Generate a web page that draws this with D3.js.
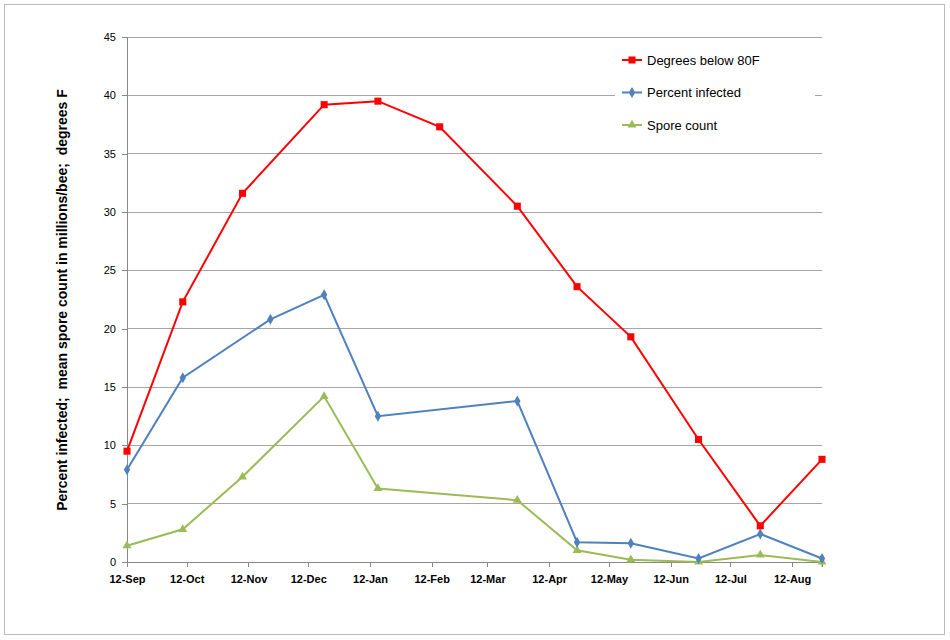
<!DOCTYPE html>
<html><head><meta charset="utf-8">
<script src="https://cdn.jsdelivr.net/npm/d3@7"></script>
<style>body{margin:0;background:#fff}svg{font-family:"Liberation Sans",Arial,sans-serif}</style>
</head><body><svg id="chart" width="950" height="640"></svg>
<script>
// dates of observation (x positions of points)
var degreesDates = ["2012-09-12","2012-10-10","2012-11-09","2012-12-20","2013-01-16","2013-02-16","2013-03-27","2013-04-26","2013-05-23","2013-06-26","2013-07-27","2013-08-27"];
var degreesBelow = [9.5, 22.3, 31.6, 39.2, 39.5, 37.3, 30.5, 23.6, 19.3, 10.5, 3.1, 8.8];
var infectedDates = ["2012-09-12","2012-10-10","2012-11-23","2012-12-20","2013-01-16","2013-03-27","2013-04-26","2013-05-23","2013-06-26","2013-07-27","2013-08-27"];
var percentInfected = [7.9, 15.8, 20.8, 22.9, 12.5, 13.8, 1.7, 1.6, 0.3, 2.4, 0.3];
var sporeDates = ["2012-09-12","2012-10-10","2012-11-09","2012-12-20","2013-01-16","2013-03-27","2013-04-26","2013-05-23","2013-06-26","2013-07-27","2013-08-27"];
var sporeCount = [1.4, 2.8, 7.3, 14.2, 6.3, 5.3, 1.0, 0.2, 0.0, 0.6, 0.0];
var tickDates = ["2012-09-12","2012-10-12","2012-11-12","2012-12-12","2013-01-12","2013-02-12","2013-03-12","2013-04-12","2013-05-12","2013-06-12","2013-07-12","2013-08-12"];
var yTicks = [0,5,10,15,20,25,30,35,40,45];

var parse = d3.utcParse("%Y-%m-%d"),
	svg = d3.select("#chart");

svg.append("rect").attr("x",4.5).attr("y",4.5).attr("width",940).attr("height",630)
	.attr("fill","#fff").attr("stroke","#bbb");

var x = d3.scaleUtc().domain([parse("2012-09-12"), parse("2013-08-27")]).range([127, 822]),
	y = d3.scaleLinear().domain([0, 45]).range([562, 37]);

// gridlines
svg.append("g").selectAll("line").data(yTicks.slice(1)).join("line")
	.attr("x1",127).attr("x2",822).attr("y1",d=>y(d)).attr("y2",d=>y(d))
	.attr("stroke","#a6a6a6").attr("stroke-width",1).attr("shape-rendering","crispEdges");

var yAxis = svg.append("g").attr("transform","translate(127,0)")
	.call(d3.axisLeft(y).tickValues(yTicks).tickSize(5).tickPadding(6));
var xAxis = svg.append("g").attr("transform","translate(0,562)")
	.call(d3.axisBottom(x).tickValues(tickDates.map(parse)).tickFormat(d3.utcFormat("%-d-%b")).tickSize(5).tickPadding(8));
[yAxis, xAxis].forEach(function (a) {
	a.selectAll("path,line").attr("stroke","#888").attr("shape-rendering","crispEdges");
	a.selectAll("text").attr("font-size",11).attr("fill","#000");
});
xAxis.selectAll("text").attr("font-weight","bold");
xAxis.append("line").attr("x1",822).attr("x2",822).attr("y1",0).attr("y2",5).attr("stroke","#888");

svg.append("text").attr("transform","translate(67,300) rotate(-90)")
	.attr("text-anchor","middle").attr("font-size",14).attr("font-weight","bold")
	.style("white-space","pre")
	.text("Percent infected;  mean spore count in millions/bee;  degrees F");

var series = [
	{name:"Degrees below 80F", dates:degreesDates, vals:degreesBelow, color:"#ff0000", shape:d3.symbolSquare, size:50},
	{name:"Percent infected", dates:infectedDates, vals:percentInfected, color:"#4f81bd", shape:d3.symbolDiamond, size:35},
	{name:"Spore count", dates:sporeDates, vals:sporeCount, color:"#9bbb59", shape:d3.symbolTriangle, size:35}
];
var line = d3.line().x(d=>x(d[0])).y(d=>y(d[1]));

series.slice().reverse().forEach(function (s) {
	var pts = s.dates.map((d,i)=>[parse(d), s.vals[i]]);
	svg.append("path").datum(pts).attr("d",line).attr("fill","none")
		.attr("stroke",s.color).attr("stroke-width",2);
	svg.append("g").selectAll("path").data(pts).join("path")
		.attr("transform",d=>"translate("+x(d[0])+","+y(d[1])+")")
		.attr("d",d3.symbol().type(s.shape).size(s.size)).attr("fill",s.color);
});

// legend
var leg = svg.append("g");
leg.append("rect").attr("x",615).attr("y",45).attr("width",200).attr("height",95).attr("fill","#fff");
series.forEach(function (s, i) {
	var ly = 60 + i*32.5;
	leg.append("line").attr("x1",622).attr("x2",642).attr("y1",ly).attr("y2",ly).attr("stroke",s.color).attr("stroke-width",2);
	leg.append("path").attr("transform","translate(632,"+ly+")").attr("d",d3.symbol().type(s.shape).size(s.size)).attr("fill",s.color);
	leg.append("text").attr("x",647).attr("y",ly+4.5).attr("font-size",13).text(s.name);
});
</script></body></html>
